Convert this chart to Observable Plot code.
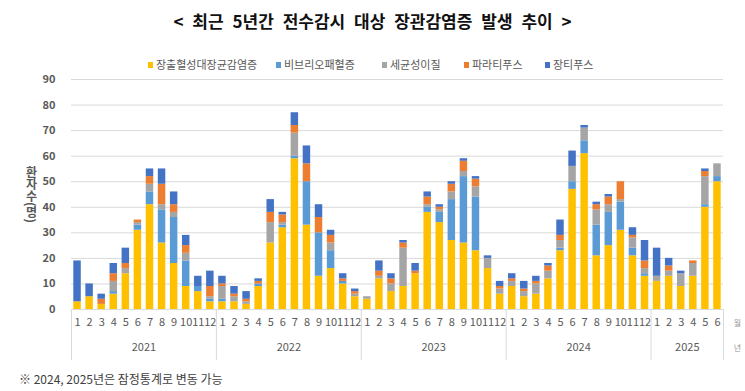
<!DOCTYPE html>
<html><head><meta charset="utf-8">
<script src="https://cdn.jsdelivr.net/npm/d3@7"></script>
<script src="https://cdn.jsdelivr.net/npm/@observablehq/plot@0.6"></script>
<style>
body{margin:0;width:745px;height:391px;background:#fff;position:relative;overflow:hidden;font-family:"Noto Sans CJK KR","Noto Sans",sans-serif;}
#title{position:absolute;top:9px;left:0;width:745px;text-align:center;font-size:17px;font-weight:bold;color:#111;word-spacing:5px;line-height:24px;}
#legend{position:absolute;top:56px;left:0;width:745px;height:16px;}
.item{position:absolute;top:0;font-size:11px;line-height:16px;color:#595959;white-space:nowrap;}
.sw{display:inline-block;width:5px;height:6px;margin-right:3px;vertical-align:1px;}
#ylabel{position:absolute;left:24px;top:166px;writing-mode:vertical-rl;font-size:12px;font-weight:bold;color:#595959;line-height:14px;}
#chart{position:absolute;left:0;top:64px;}
#note{position:absolute;left:19px;top:370px;font-size:12px;color:#404040;}
</style></head>
<body>
<div id="title">&lt; 최근 5년간 전수감시 대상 장관감염증 발생 추이 &gt;</div>
<div id="legend"></div>
<div id="chart"></div>
<div id="ylabel">환자수(명)</div>
<div id="note">※ 2024, 2025년은 잠정통계로 변동 가능</div>
<script>
const years = ["2021","2022","2023","2024","2025"];
const monthsPerYear = [12,12,12,12,6];
const monthLabels = years.flatMap((y,k)=>d3.range(1, monthsPerYear[k]+1).map(String));
const seriesNames = ["장출혈성대장균감염증","비브리오패혈증","세균성이질","파라티푸스","장티푸스"];
const seriesColors = ["#FFC000","#5B9BD5","#A5A5A5","#ED7D31","#4472C4"];
const yTicks = [0,10,20,30,40,50,60,70,80,90];

const ehec = [3,5,2,6,14,31,41,26,18,9,7,3,
              3,3,2,9,26,32,59,33,13,16,10,5,
              4,12,7,9,14,38,34,27,26,23,16,6,
              9,5,6,12,23,47,61,21,25,31,21,13,
              11,13,9,13,40,50];
const vibrio = [0,0,0,1,0,2,5,13,18,10,2,1,
                1,0,0,1,0,1,1,17,17,7,1,0,
                0,0,0,0,0,2,4,16,26,21,0,0,
                0,0,0,0,1,3,5,12,13,11,3,1,
                0,0,0,0,1,2];
const shigella = [0,0,0,4,2,1,3,2,2,3,0,1,
                  5,2,1,0,8,1,9,0,0,3,0,1,
                  1,1,3,15,0,1,1,3,2,4,4,2,
                  2,2,4,3,3,6,5,6,3,1,4,2,
                  2,2,5,5,11,5];
const paratyphoid = [0,0,2,3,2,1,3,8,3,3,0,4,
                     1,1,1,1,4,3,3,7,6,3,1,1,
                     0,2,2,2,1,3,1,3,4,3,0,1,
                     1,1,1,2,2,0,0,2,3,7,1,3,
                     0,2,0,1,2,0];
const typhoid = [16,5,2,4,6,0,3,6,5,4,4,6,
                 3,3,3,1,5,1,5,7,5,2,2,1,
                 0,4,2,1,3,2,1,1,1,1,1,2,
                 2,3,2,1,6,6,1,1,1,0,3,8,
                 11,3,1,0,1,0];

const seriesValues = [ehec, vibrio, shigella, paratyphoid, typhoid];
const rows = [];
seriesNames.forEach((name, s) => {
  seriesValues[s].forEach((v, i) => rows.push({i, series: name, value: v}));
});
const n = monthLabels.length;
const idx = d3.range(n);
let acc = 0;
const yearRows = years.map((y,k)=>{const start=acc; acc+=monthsPerYear[k]; return {year:y,start,end:acc};});
const boundaries = [0, ...yearRows.map(d=>d.end)];

// legend
const leg = document.getElementById("legend");
const legLeft = [148, 276, 382, 464, 545];
seriesNames.forEach((name,k)=>{
  const el = document.createElement("span");
  el.className="item"; el.style.left = legLeft[k]+"px";
  el.innerHTML = `<span class="sw" style="background:${seriesColors[k]}"></span>${name}`;
  leg.appendChild(el);
});

const chart = Plot.plot({
  width: 745, height: 301,
  marginTop: 15, marginBottom: 56, marginLeft: 71, marginRight: 22,
  style: {fontFamily: '"Noto Sans CJK KR","Noto Sans",sans-serif', fontSize: "11px", color: "#595959", background: "transparent", overflow: "visible"},
  x: {domain: [0, n], axis: null},
  y: {domain: [0, 90], axis: null},
  color: {domain: seriesNames, range: seriesColors},
  marks: [
    Plot.ruleY(yTicks, {stroke: "#d9d9d9", strokeWidth: 1}),
    Plot.rectY(rows, {x1: d=>d.i, x2: d=>d.i+1, y: "value", fill: "series", insetLeft: 2.3, insetRight: 2.3}),
    Plot.axisY({ticks: yTicks, tickSize: 0, tickPadding: 16, label: null, fontSize: 11, fontWeight: "bold"}),
    Plot.text(idx, {x: i=>i+0.5, text: i=>monthLabels[i], frameAnchor: "bottom", dy: 16, fontSize: 11, fill: "#595959"}),
    Plot.text(yearRows, {x: d=>(d.start+d.end)/2, text: "year", frameAnchor: "bottom", dy: 41, fontSize: 11, fill: "#595959"}),
    Plot.ruleX(boundaries, {x: d=>d, y1: 0, y2: -20, stroke: "#d9d9d9"}),
    Plot.text(["월"], {x: n, text: d=>d, frameAnchor: "bottom", dy: 16, dx: 14, fontSize: 8, fill: "#999"}),
    Plot.text(["년"], {x: n, text: d=>d, frameAnchor: "bottom", dy: 41, dx: 14, fontSize: 8, fill: "#999"})
  ]
});
document.getElementById("chart").appendChild(chart);
</script>
</body></html>
